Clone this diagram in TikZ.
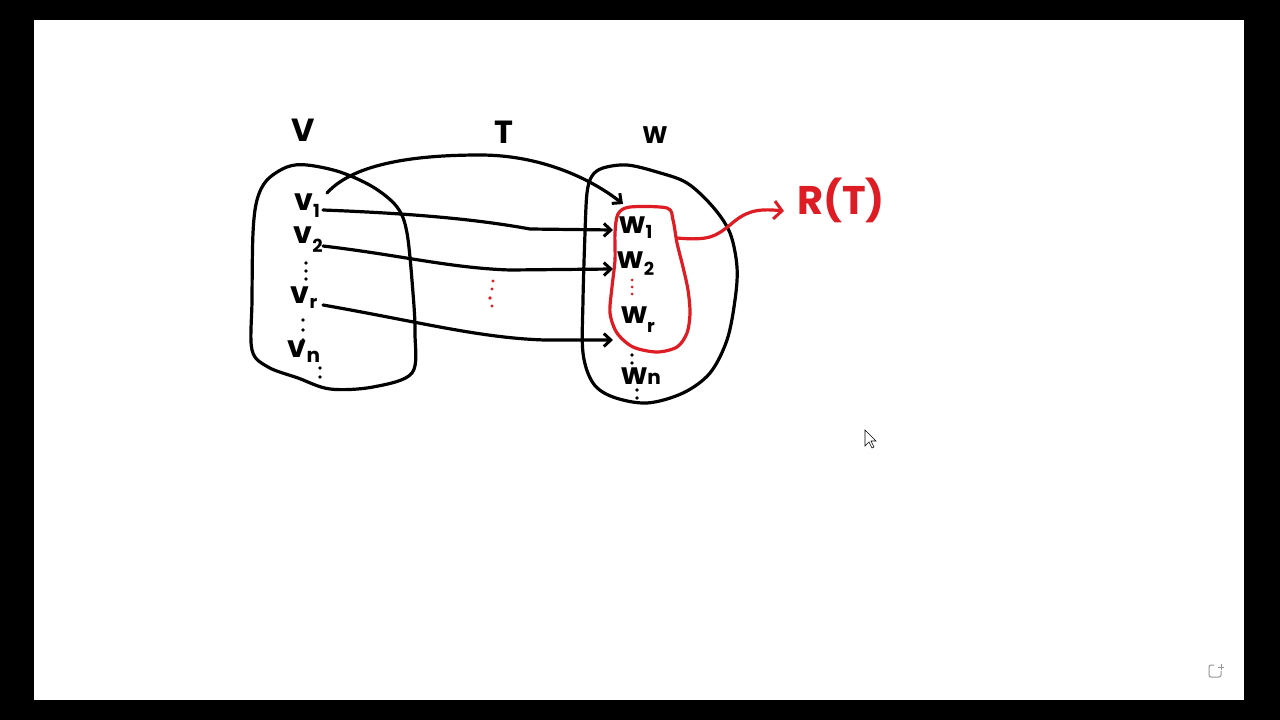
\documentclass[tikz,border=0pt]{standalone}
\usepackage{fontspec}
\setmainfont{Poppins}
\usetikzlibrary{arrows.meta}
\definecolor{penred}{RGB}{222,28,36}
\definecolor{icongray}{RGB}{150,150,150}
\begin{document}
\begin{tikzpicture}[x=1pt,y=-1pt,
  ink/.style={line width=3.2pt, line cap=round, line join=round},
  redink/.style={ink, draw=penred},
  tipped/.style={-{Straight Barb[length=7pt,width=13pt,line width=3pt]}},
  redtip/.style={-{Straight Barb[length=8pt,width=18pt,line width=3pt]}},
  lbl/.style={font=\fontsize{30}{30}\selectfont\bfseries, inner sep=0pt},
  dotb/.style={fill=black},
  dotr/.style={fill=penred}]
\useasboundingbox (0,0) rectangle (1280,720);
\fill[black] (0,0) rectangle (1280,720);
\fill[white] (34,20) rectangle (1244,700);

% left set V
\draw[ink] plot[smooth cycle, tension=0.55] coordinates {
 (307,165) (340,172) (373,187) (397,207) (407,233) (413,293) (415,333)
 (412,373) (373,387) (330,389) (298,378) (268,367) (252,350) (252,300)
 (253,233) (257,200) (267,180) (287,167)};
% right set W
\draw[ink] plot[smooth cycle, tension=0.55] coordinates {
 (603,168) (627,165) (657,172) (687,183) (713,207) (730,233) (737,267)
 (735,300) (727,340) (710,373) (683,393) (647,403) (613,397) (593,383)
 (583,353) (583,300) (585,233) (587,193) (592,176)};
% red range set
\draw[redink] plot[smooth cycle, tension=0.5] coordinates {
 (630,207) (667,208) (673,220) (677,243) (683,267) (688,290) (690,313)
 (687,333) (677,347) (657,352) (633,347) (617,333) (610,313) (612,287)
 (615,260) (615,233) (618,214)};

% labels
\node[lbl, font=\fontsize{32}{32}\selectfont\bfseries] (lV) at (303,130) {V};
\node[lbl, font=\fontsize{32}{32}\selectfont\bfseries] (lT) at (504,132) {T};
\node[lbl, font=\fontsize{24}{24}\selectfont\bfseries] (lW) at (655,135) {W};

\node[lbl] (v1) at (307,206) {v\raisebox{-7pt}{\fontsize{18}{18}\selectfont 1}};
\node[lbl] (v2) at (308,240) {v\raisebox{-9pt}{\fontsize{18}{18}\selectfont 2}};
\node[lbl] (vr) at (304,298) {v\raisebox{-5pt}{\fontsize{18}{18}\selectfont r}};
\node[lbl] (vn) at (304,352) {v\raisebox{-5pt}{\fontsize{20}{20}\selectfont n}};

\node[lbl] (w1) at (636,228) {w\raisebox{-5pt}{\fontsize{18}{18}\selectfont 1}};
\node[lbl] (w2) at (636,264) {w\raisebox{-7pt}{\fontsize{18}{18}\selectfont 2}};
\node[lbl] (wr) at (638,320) {w\raisebox{-9pt}{\fontsize{18}{18}\selectfont r}};
\node[lbl] (wn) at (641,376) {w\fontsize{20}{20}\selectfont n};

\node[lbl, text=penred, font=\fontsize{40}{40}\selectfont\bfseries] (RT) at (841,200) {R(T)};

% dots
\foreach \y in {263,271,279} \fill[dotb] (306,\y) circle (1.8);
\foreach \y in {320,330,340} \fill[dotb] (303,\y) circle (1.8);
\foreach \y in {368,377} \fill[dotb] (320,\y) circle (1.8);
\foreach \y in {280,287,294} \fill[dotr] (632,\y) circle (1.5);
\foreach \y in {355,363} \fill[dotb] (632,\y) circle (1.8);
\foreach \y in {390,398} \fill[dotb] (637,\y) circle (1.8);
\fill[dotr] (493,281) circle (1.6);
\fill[dotr] (492,289) circle (1.6);
\fill[dotr] (490,298) circle (1.8);
\fill[dotr] (492,306) circle (1.6);

% connector end points
\coordinate (s0) at (327,193);
\coordinate (e0) at (623,204);
\coordinate (s1) at (323,210);
\coordinate (e1) at (613,230);
\coordinate (s2) at (323,246);
\coordinate (e2) at (613,269);
\coordinate (s3) at (323,305);
\coordinate (e3) at (613,340);
\coordinate (rs) at (677,238);
\coordinate (re) at (784,211);

% arrows of T
\draw[ink, tipped] (s0) .. controls (355,162) and (420,155) .. (480,155)
  .. controls (540,155) and (590,178) .. (e0);
\draw[ink, tipped] (s1) .. controls (400,213) and (470,218) .. (530,229) -- (e1);
\draw[ink, tipped] (s2) .. controls (400,255) and (450,268) .. (510,270) -- (e2);
\draw[ink, tipped] (s3) .. controls (420,322) and (480,338) .. (545,340) -- (e3);
% red arrow to R(T)
\draw[redink, redtip] (rs) .. controls (710,241) and (716,236) .. (730,225)
  .. controls (745,212) and (755,208) .. (re);

% cursor and corner icon
\draw[black, line width=0.6pt, fill=white] (865,430) -- (865,446) -- (869,442)
  -- (872,448) -- (874,447) -- (871,441) -- (876,441) -- cycle;
\draw[icongray, line width=1pt, rounded corners=2pt] (1214,665) -- (1209,665) -- (1209,677) -- (1221,677) -- (1221,671);
\draw[icongray, line width=1pt] (1218,667) -- (1224,667) (1221,664) -- (1221,670);
\end{tikzpicture}
\end{document}
